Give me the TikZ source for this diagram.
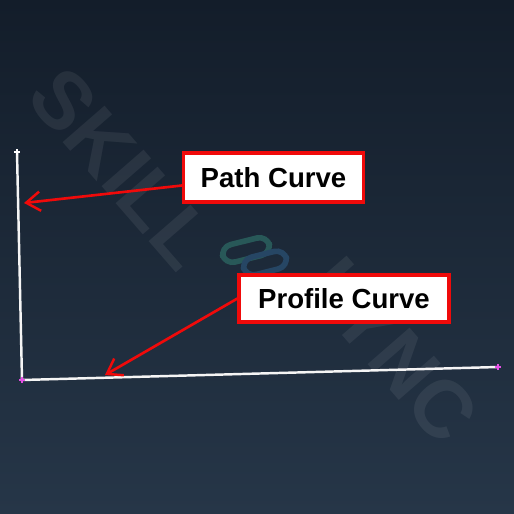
\documentclass[tikz,border=0pt]{standalone}
\usepackage{fontspec}
\setmainfont{Liberation Sans}
\usetikzlibrary{arrows.meta, positioning, calc}

\definecolor{bgtop}{RGB}{19,29,42}
\definecolor{bgbot}{RGB}{38,54,72}
\definecolor{callred}{RGB}{240,10,10}
\definecolor{endpink}{RGB}{230,80,230}
\definecolor{linkteal}{RGB}{40,88,88}
\definecolor{linkblue}{RGB}{38,70,100}

\begin{document}
\begin{tikzpicture}[x=0.02cm, y=-0.02cm,
  callout/.style={rectangle, draw=callred, line width=1.8pt, fill=white,
    inner sep=0pt, font=\fontsize{15.7}{18}\selectfont\bfseries},
  curve/.style={line width=1.4pt, white!92!gray},
  pointer/.style={line width=1.5pt, callred,
    -{Straight Barb[length=8pt, width=11pt, line width=1.4pt]}},
  endmark/.style={line width=0.9pt},
  wmark/.style={white, opacity=0.07, font=\fontsize{46}{50}\selectfont\bfseries, rotate=-49},
  chain/.style={line width=3.2pt, rounded corners=6pt}
]
  % Background
  \shade[top color=bgtop, bottom color=bgbot] (0,0) rectangle (514,514);
  \useasboundingbox (0,0) rectangle (514,514);

  % Watermark
  \node[wmark] (wm1) at (122,168) {SKILL};
  \node[wmark] (wm2) at (392,350) {LYNC};
  \draw[chain, linkteal, rotate around={14:(246,250)}]
    (222,241) rectangle (270,259);
  \draw[chain, linkblue, rotate around={14:(265,263)}]
    (243,254) rectangle (287,272);

  % Curve end points
  \coordinate (top) at (17,152);
  \coordinate (corner) at (22,380);
  \coordinate (tip) at (498,367);
  \coordinate (pathhit) at (24,203);
  \coordinate (profhit) at (105,375);

  % Curves
  \draw[curve] (top) -- (corner) -- (tip);
  \draw[endmark, white] ($(top)+(-3,0)$) -- ($(top)+(3,0)$)
    ($(top)+(0,-3)$) -- ($(top)+(0,3)$);
  \foreach \p in {corner, tip} {
    \draw[endmark, endpink] ($(\p)+(-3,0)$) -- ($(\p)+(3,0)$)
      ($(\p)+(0,-3)$) -- ($(\p)+(0,3)$);
  }

  % Labels
  \node[callout, minimum width=3.6cm, minimum height=0.98cm] (path) at (273.5,177.5) {Path Curve};
  \node[callout, minimum width=4.2cm, minimum height=0.94cm] (prof) at (344,298.5) {Profile Curve};

  % Pointers
  \draw[pointer] (path.west) ++(0,8) -- (pathhit);
  \draw[pointer] (prof.west) -- (profhit);
\end{tikzpicture}
\end{document}
